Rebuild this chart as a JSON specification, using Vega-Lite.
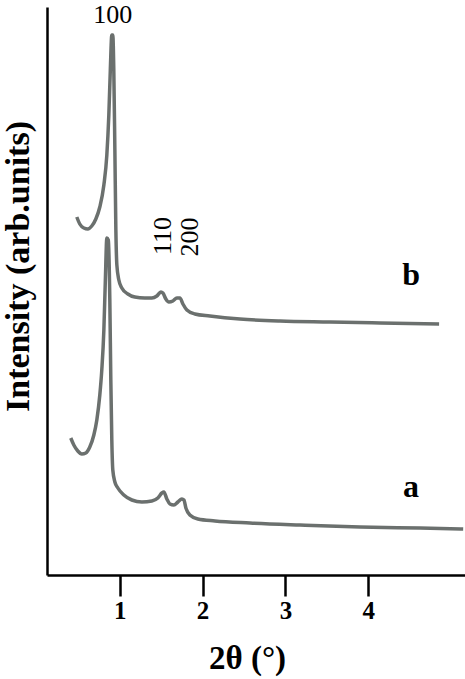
{
  "$schema": "https://vega.github.io/schema/vega-lite/v6.json",
  "width": 418,
  "height": 568,
  "autosize": {"type": "none"},
  "padding": {"left": 47, "top": 7, "right": 0, "bottom": 104},
  "background": "white",
  "config": {"view": {"stroke": null}, "font": "Liberation Serif"},
  "datasets": {
    "curves": [
      {"s": "b", "t": 0.480, "i": 358}, {"s": "b", "t": 0.516, "i": 351}, {"s": "b", "t": 0.565, "i": 347},
      {"s": "b", "t": 0.613, "i": 346}, {"s": "b", "t": 0.661, "i": 349}, {"s": "b", "t": 0.710, "i": 356},
      {"s": "b", "t": 0.758, "i": 368}, {"s": "b", "t": 0.807, "i": 390}, {"s": "b", "t": 0.843, "i": 420},
      {"s": "b", "t": 0.867, "i": 460}, {"s": "b", "t": 0.885, "i": 505}, {"s": "b", "t": 0.903, "i": 540},
      {"s": "b", "t": 0.915, "i": 540}, {"s": "b", "t": 0.927, "i": 505}, {"s": "b", "t": 0.940, "i": 425},
      {"s": "b", "t": 0.952, "i": 345}, {"s": "b", "t": 0.964, "i": 310}, {"s": "b", "t": 0.988, "i": 295},
      {"s": "b", "t": 1.024, "i": 287}, {"s": "b", "t": 1.097, "i": 281}, {"s": "b", "t": 1.181, "i": 278},
      {"s": "b", "t": 1.302, "i": 277}, {"s": "b", "t": 1.387, "i": 277}, {"s": "b", "t": 1.447, "i": 279},
      {"s": "b", "t": 1.496, "i": 283}, {"s": "b", "t": 1.520, "i": 282}, {"s": "b", "t": 1.556, "i": 276},
      {"s": "b", "t": 1.592, "i": 273}, {"s": "b", "t": 1.641, "i": 274}, {"s": "b", "t": 1.689, "i": 277},
      {"s": "b", "t": 1.726, "i": 277}, {"s": "b", "t": 1.762, "i": 271}, {"s": "b", "t": 1.810, "i": 265},
      {"s": "b", "t": 1.907, "i": 261}, {"s": "b", "t": 2.088, "i": 259}, {"s": "b", "t": 2.451, "i": 256},
      {"s": "b", "t": 2.935, "i": 254}, {"s": "b", "t": 3.539, "i": 253}, {"s": "b", "t": 4.144, "i": 252},
      {"s": "b", "t": 4.857, "i": 251},
      {"s": "a", "t": 0.407, "i": 137}, {"s": "a", "t": 0.444, "i": 130}, {"s": "a", "t": 0.492, "i": 124},
      {"s": "a", "t": 0.541, "i": 121}, {"s": "a", "t": 0.589, "i": 122}, {"s": "a", "t": 0.637, "i": 128},
      {"s": "a", "t": 0.686, "i": 140}, {"s": "a", "t": 0.722, "i": 155}, {"s": "a", "t": 0.758, "i": 180},
      {"s": "a", "t": 0.782, "i": 205}, {"s": "a", "t": 0.807, "i": 245}, {"s": "a", "t": 0.825, "i": 295},
      {"s": "a", "t": 0.843, "i": 337}, {"s": "a", "t": 0.861, "i": 335}, {"s": "a", "t": 0.879, "i": 275},
      {"s": "a", "t": 0.891, "i": 195}, {"s": "a", "t": 0.903, "i": 135}, {"s": "a", "t": 0.915, "i": 105},
      {"s": "a", "t": 0.940, "i": 93}, {"s": "a", "t": 0.976, "i": 87}, {"s": "a", "t": 1.048, "i": 80},
      {"s": "a", "t": 1.145, "i": 75}, {"s": "a", "t": 1.266, "i": 73}, {"s": "a", "t": 1.387, "i": 74},
      {"s": "a", "t": 1.459, "i": 77}, {"s": "a", "t": 1.508, "i": 82}, {"s": "a", "t": 1.532, "i": 83},
      {"s": "a", "t": 1.568, "i": 76}, {"s": "a", "t": 1.605, "i": 71}, {"s": "a", "t": 1.653, "i": 70},
      {"s": "a", "t": 1.701, "i": 73}, {"s": "a", "t": 1.750, "i": 76}, {"s": "a", "t": 1.774, "i": 75},
      {"s": "a", "t": 1.798, "i": 67}, {"s": "a", "t": 1.846, "i": 60}, {"s": "a", "t": 1.943, "i": 56},
      {"s": "a", "t": 2.149, "i": 54}, {"s": "a", "t": 2.572, "i": 52}, {"s": "a", "t": 3.177, "i": 50},
      {"s": "a", "t": 3.902, "i": 48}, {"s": "a", "t": 4.628, "i": 47}, {"s": "a", "t": 5.148, "i": 46}
    ],
    "peaks": [
      {"label": "100", "t": 0.915, "i": 560},
      {"label": "110", "t": 1.52, "i": 339},
      {"label": "200", "t": 1.845, "i": 338}
    ],
    "names": [
      {"label": "b", "t": 4.519, "i": 300},
      {"label": "a", "t": 4.519, "i": 88}
    ]
  },
  "layer": [
    {
      "data": {"name": "curves"},
      "mark": {"type": "line", "color": "#6b706e", "strokeWidth": 3.5, "interpolate": "monotone", "clip": true},
      "encoding": {
        "detail": {"field": "s", "type": "nominal"},
        "x": {
          "field": "t", "type": "quantitative",
          "scale": {"domain": [0.12, 5.17], "nice": false, "zero": false},
          "axis": {
            "title": "2θ (°)",
            "values": [1, 2, 3, 4],
            "format": "d",
            "grid": false,
            "domainColor": "black", "domainWidth": 2.5,
            "tickColor": "black", "tickWidth": 2.5, "tickSize": 21,
            "labelFont": "Liberation Serif", "labelFontWeight": "bold", "labelFontSize": 25, "labelColor": "black",
            "labelPadding": 2,
            "titleFont": "Liberation Serif", "titleFontWeight": "bold", "titleFontSize": 33, "titleColor": "black",
            "titleX": 200, "titleY": 93, "titleBaseline": "alphabetic"
          }
        },
        "y": {
          "field": "i", "type": "quantitative",
          "scale": {"domain": [0, 568], "nice": false},
          "axis": {
            "title": "Intensity (arb.units)",
            "ticks": false, "labels": false, "grid": false,
            "domainColor": "black", "domainWidth": 2.5,
            "titleFont": "Liberation Serif", "titleFontWeight": "bold", "titleFontSize": 34, "titleColor": "black",
            "titleX": -12, "titleY": 259, "titleBaseline": "bottom", "titleAngle": -90, "titleAlign": "center"
          }
        }
      }
    },
    {
      "data": {"name": "peaks"},
      "mark": {"type": "text", "font": "Liberation Serif", "fontSize": 26, "color": "black", "baseline": "middle", "align": "center"},
      "encoding": {
        "x": {"field": "t", "type": "quantitative"},
        "y": {"field": "i", "type": "quantitative"},
        "text": {"field": "label"},
        "angle": {"condition": {"test": "datum.label !== '100'", "value": 270}, "value": 0}
      }
    },
    {
      "data": {"name": "names"},
      "mark": {"type": "text", "font": "Liberation Serif", "fontWeight": "bold", "fontSize": 32, "color": "black", "baseline": "middle", "align": "center"},
      "encoding": {
        "x": {"field": "t", "type": "quantitative"},
        "y": {"field": "i", "type": "quantitative"},
        "text": {"field": "label"}
      }
    }
  ]
}
